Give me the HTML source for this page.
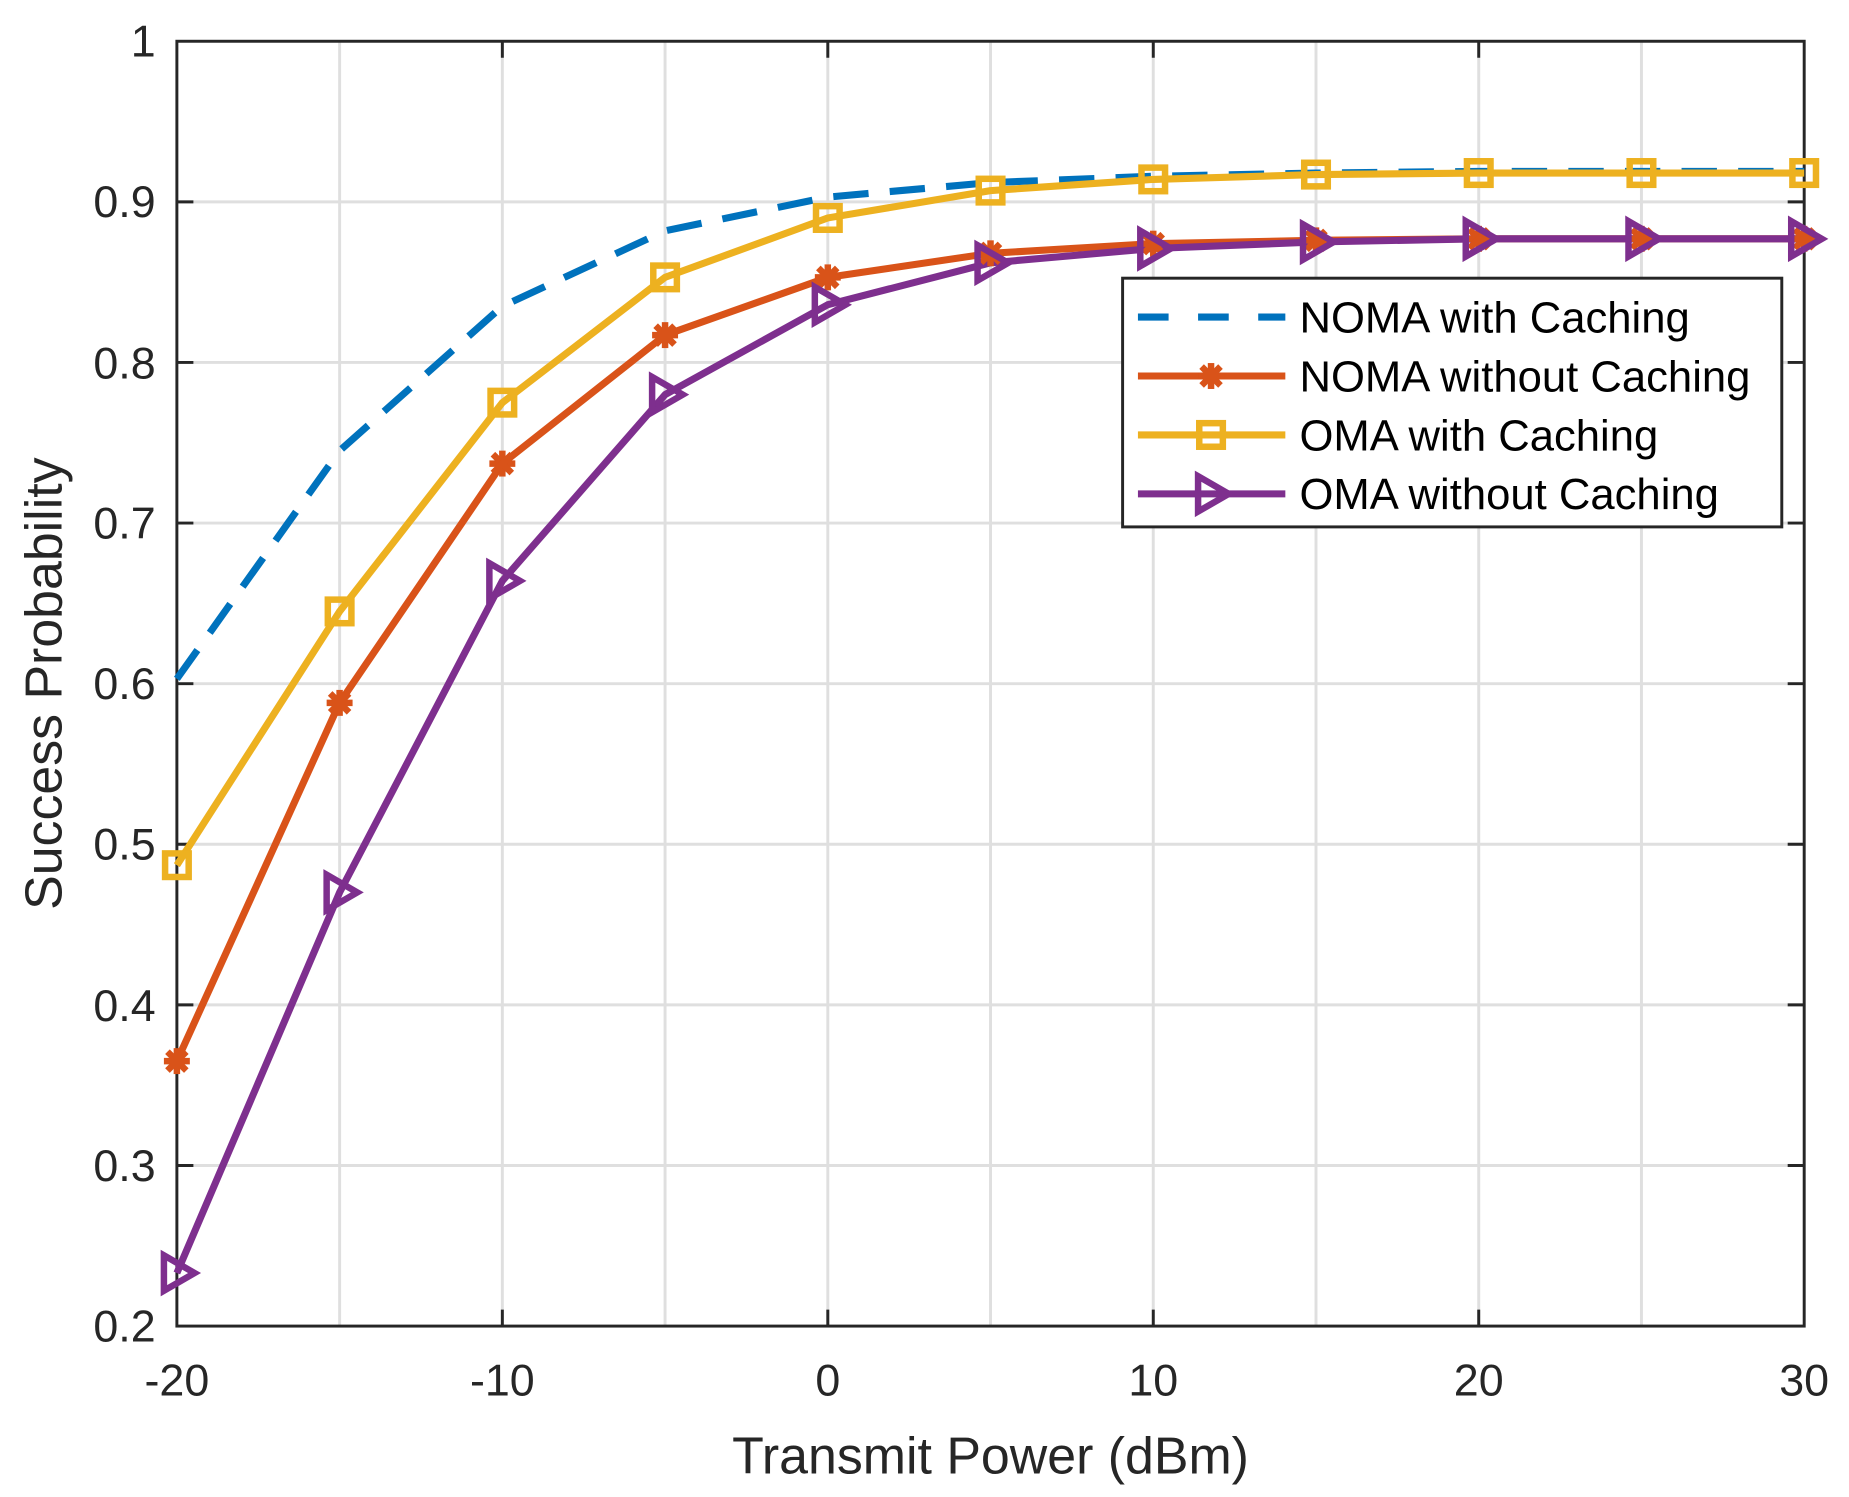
<!DOCTYPE html>
<html><head><meta charset="utf-8"><style>html,body{margin:0;padding:0;background:#fff}svg{display:block}</style></head>
<body>
<svg width="1849" height="1497" viewBox="0 0 1568 1270" preserveAspectRatio="none" xmlns="http://www.w3.org/2000/svg" font-family="Liberation Sans, sans-serif">
<defs>
<g id="sq"><rect x="-10" y="-10" width="20" height="20" fill="none" stroke="#EDB120" stroke-width="5.5"/></g>
<g id="tr"><path d="M-11,-15 L15,0 L-11,15 Z" fill="none" stroke="#7E2F8E" stroke-width="5.5"/></g>
<g id="as" stroke="#D95319" stroke-width="5.5"><line x1="0" y1="-11" x2="0" y2="11"/><line x1="-11" y1="0" x2="11" y2="0"/><line x1="-8" y1="-8" x2="8" y2="8"/><line x1="-8" y1="8" x2="8" y2="-8"/></g>
</defs>
<g stroke="#dfdfdf" stroke-width="2.5">
<line x1="288" y1="35" x2="288" y2="1125"/><line x1="426" y1="35" x2="426" y2="1125"/><line x1="564" y1="35" x2="564" y2="1125"/><line x1="702" y1="35" x2="702" y2="1125"/><line x1="840" y1="35" x2="840" y2="1125"/><line x1="978" y1="35" x2="978" y2="1125"/><line x1="1116" y1="35" x2="1116" y2="1125"/><line x1="1254" y1="35" x2="1254" y2="1125"/><line x1="1392" y1="35" x2="1392" y2="1125"/>
<line x1="150" y1="171.25" x2="1530" y2="171.25"/><line x1="150" y1="307.5" x2="1530" y2="307.5"/><line x1="150" y1="443.75" x2="1530" y2="443.75"/><line x1="150" y1="580" x2="1530" y2="580"/><line x1="150" y1="716.25" x2="1530" y2="716.25"/><line x1="150" y1="852.5" x2="1530" y2="852.5"/><line x1="150" y1="988.75" x2="1530" y2="988.75"/>
</g>
<g stroke="#262626" stroke-width="2.5">
<path d="M426,1125v-14M702,1125v-14M978,1125v-14M1254,1125v-14M426,35v14M702,35v14M978,35v14M1254,35v14"/>
<path d="M150,171.25h14M150,307.5h14M150,443.75h14M150,580h14M150,716.25h14M150,852.5h14M150,988.75h14M1530,171.25h-14M1530,307.5h-14M1530,443.75h-14M1530,580h-14M1530,716.25h-14M1530,852.5h-14M1530,988.75h-14"/>
<rect x="150" y="35" width="1380" height="1090" fill="none"/>
</g>
<g font-size="38" fill="#262626" text-anchor="end">
<text x="132" y="48">1</text><text x="132" y="184">0.9</text><text x="132" y="321">0.8</text><text x="132" y="457">0.7</text><text x="132" y="593">0.6</text><text x="132" y="729">0.5</text><text x="132" y="866">0.4</text><text x="132" y="1002">0.3</text><text x="132" y="1138">0.2</text>
</g>
<g font-size="38" fill="#262626" text-anchor="middle">
<text x="150" y="1184">-20</text><text x="426" y="1184">-10</text><text x="702" y="1184">0</text><text x="978" y="1184">10</text><text x="1254" y="1184">20</text><text x="1530" y="1184">30</text>
<text x="840" y="1250" font-size="44">Transmit Power (dBm)</text>
<text transform="translate(52,580) rotate(-90)" font-size="44">Success Probability</text>
</g>
<g fill="none" stroke-width="6" stroke-linejoin="round">
<polyline stroke="#0072BD" stroke-dasharray="30,18" points="150,575.9 288,382.4 426,259.8 564,195.8 702,167.2 840,154.9 978,149.5 1116,146.8 1254,145.4 1392,145.4 1530,145.4"/>
<polyline stroke="#D95319" points="150,900.2 288,596.3 426,393.3 564,284.3 702,235.3 840,214.9 978,206.7 1116,203.9 1254,202.6 1392,202.6 1530,202.6"/>
<polyline stroke="#EDB120" points="150,734 288,518.7 426,341.6 564,235.3 702,184.9 840,161.7 978,152.2 1116,148.1 1254,146.8 1392,146.8 1530,146.8"/>
<polyline stroke="#7E2F8E" points="150,1080 288,757.1 426,492.8 564,334.8 702,258.5 840,223 978,210.8 1116,205.3 1254,202.6 1392,202.6 1530,202.6"/>
</g>
<use href="#as" x="150" y="900.2"/><use href="#as" x="288" y="596.3"/><use href="#as" x="426" y="393.3"/><use href="#as" x="564" y="284.3"/><use href="#as" x="702" y="235.3"/><use href="#as" x="840" y="214.9"/><use href="#as" x="978" y="206.7"/><use href="#as" x="1116" y="203.9"/><use href="#as" x="1254" y="202.6"/><use href="#as" x="1392" y="202.6"/><use href="#as" x="1530" y="202.6"/>
<use href="#sq" x="150" y="734"/><use href="#sq" x="288" y="518.7"/><use href="#sq" x="426" y="341.6"/><use href="#sq" x="564" y="235.3"/><use href="#sq" x="702" y="184.9"/><use href="#sq" x="840" y="161.7"/><use href="#sq" x="978" y="152.2"/><use href="#sq" x="1116" y="148.1"/><use href="#sq" x="1254" y="146.8"/><use href="#sq" x="1392" y="146.8"/><use href="#sq" x="1530" y="146.8"/>
<use href="#tr" x="150" y="1080"/><use href="#tr" x="288" y="757.1"/><use href="#tr" x="426" y="492.8"/><use href="#tr" x="564" y="334.8"/><use href="#tr" x="702" y="258.5"/><use href="#tr" x="840" y="223"/><use href="#tr" x="978" y="210.8"/><use href="#tr" x="1116" y="205.3"/><use href="#tr" x="1254" y="202.6"/><use href="#tr" x="1392" y="202.6"/><use href="#tr" x="1530" y="202.6"/>
<rect x="952" y="236" width="559" height="211" fill="#fff" stroke="#262626" stroke-width="2.5"/>
<g stroke-width="6">
<line x1="965" y1="269" x2="1090" y2="269" stroke="#0072BD" stroke-dasharray="26,25"/>
<line x1="965" y1="319" x2="1090" y2="319" stroke="#D95319"/>
<line x1="965" y1="369" x2="1090" y2="369" stroke="#EDB120"/>
<line x1="965" y1="419" x2="1090" y2="419" stroke="#7E2F8E"/>
</g>
<use href="#as" x="1027" y="319"/><use href="#sq" x="1027" y="369"/><use href="#tr" x="1027" y="419"/>
<g font-size="37" fill="#000">
<text x="1102" y="282">NOMA with Caching</text>
<text x="1102" y="332">NOMA without Caching</text>
<text x="1102" y="382">OMA with Caching</text>
<text x="1102" y="432">OMA without Caching</text>
</g>
</svg>
</body></html>
